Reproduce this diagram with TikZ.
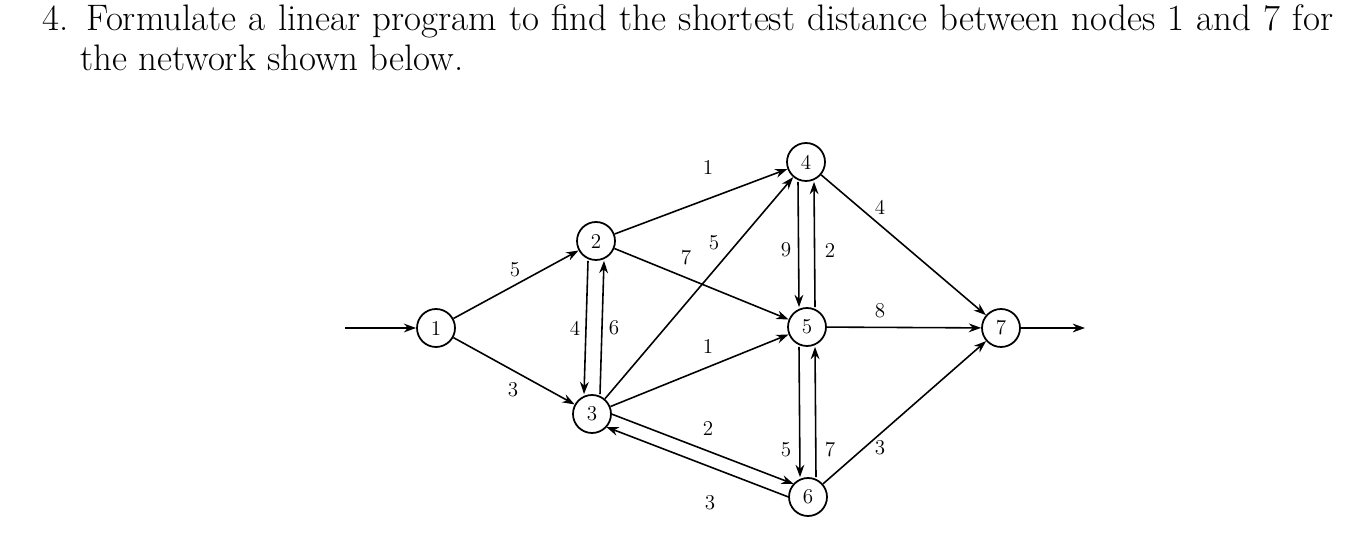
\documentclass[tikz,border=0pt]{standalone}
\usetikzlibrary{arrows.meta,calc}
\begin{document}
\begin{tikzpicture}[x=0.02cm,y=-0.02cm,
  nd/.style={circle,draw,line width=1pt,minimum size=0.76cm,inner sep=0pt,font=\large},
  ar/.style={line width=0.9pt,-{Stealth[length=7pt,width=5pt]}},
  lb/.style={font=\large,inner sep=1pt}]
\useasboundingbox (0,0) rectangle (1368,546);
\node[anchor=north west,inner sep=0pt] (t) at (42,4) {\parbox{25.82cm}{\fontsize{21}{22.7}\selectfont\hangindent=0.76cm\hangafter=1
4. Formulate a linear program to find the shortest distance between nodes 1 and 7 for the network shown below.}};
\node[nd] (1) at (436,328) {1};
\node[nd] (2) at (596,241) {2};
\node[nd] (3) at (592,414) {3};
\node[nd] (4) at (806,162) {4};
\node[nd] (5) at (807,327) {5};
\node[nd] (6) at (808,497) {6};
\node[nd] (7) at (1001,328) {7};
\coordinate (in) at (345,328);
\coordinate (out) at (1085,328);
\draw[ar] (in) -- (1);
\draw[ar] (7) -- (out);
\draw[ar] (1) -- (2);
\draw[ar] (1) -- (3);
\draw[ar] ([xshift=-0.16cm]2.south) -- ([xshift=-0.16cm]3.north);
\draw[ar] ([xshift=0.16cm]3.north) -- ([xshift=0.16cm]2.south);
\draw[ar] (2) -- (4);
\draw[ar] (2) -- (5);
\draw[ar] (3) -- (4);
\draw[ar] (3) -- (5);
\draw[ar,shorten <=0.36cm,shorten >=0.36cm] ($(3)!0.14cm!90:(6)$) -- ($(6)!0.14cm!-90:(3)$);
\draw[ar,shorten <=0.36cm,shorten >=0.36cm] ($(6)!0.14cm!90:(3)$) -- ($(3)!0.14cm!-90:(6)$);
\draw[ar] ([xshift=-0.16cm]4.south) -- ([xshift=-0.16cm]5.north);
\draw[ar] ([xshift=0.16cm]5.north) -- ([xshift=0.16cm]4.south);
\draw[ar] ([xshift=-0.16cm]5.south) -- ([xshift=-0.16cm]6.north);
\draw[ar] ([xshift=0.16cm]6.north) -- ([xshift=0.16cm]5.south);
\draw[ar] (4) -- (7);
\draw[ar] (5) -- (7);
\draw[ar] (6) -- (7);
\node[lb] (l12) at (515,270) {5};
\node[lb] (l13) at (513,390) {3};
\node[lb] (l23) at (575,328) {4};
\node[lb] (l32) at (614,328) {6};
\node[lb] (l24) at (708,167) {1};
\node[lb] (l25) at (686,258) {7};
\node[lb] (l34) at (714,243) {5};
\node[lb] (l35) at (708,346) {1};
\node[lb] (l36) at (708,428) {2};
\node[lb] (l63) at (710,503) {3};
\node[lb] (l45) at (786,250) {9};
\node[lb] (l54) at (830,250) {2};
\node[lb] (l47) at (880,207) {4};
\node[lb] (l57) at (880,311) {8};
\node[lb] (l56) at (786,450) {5};
\node[lb] (l65) at (830,450) {7};
\node[lb] (l67) at (880,448) {3};
\end{tikzpicture}
\end{document}
